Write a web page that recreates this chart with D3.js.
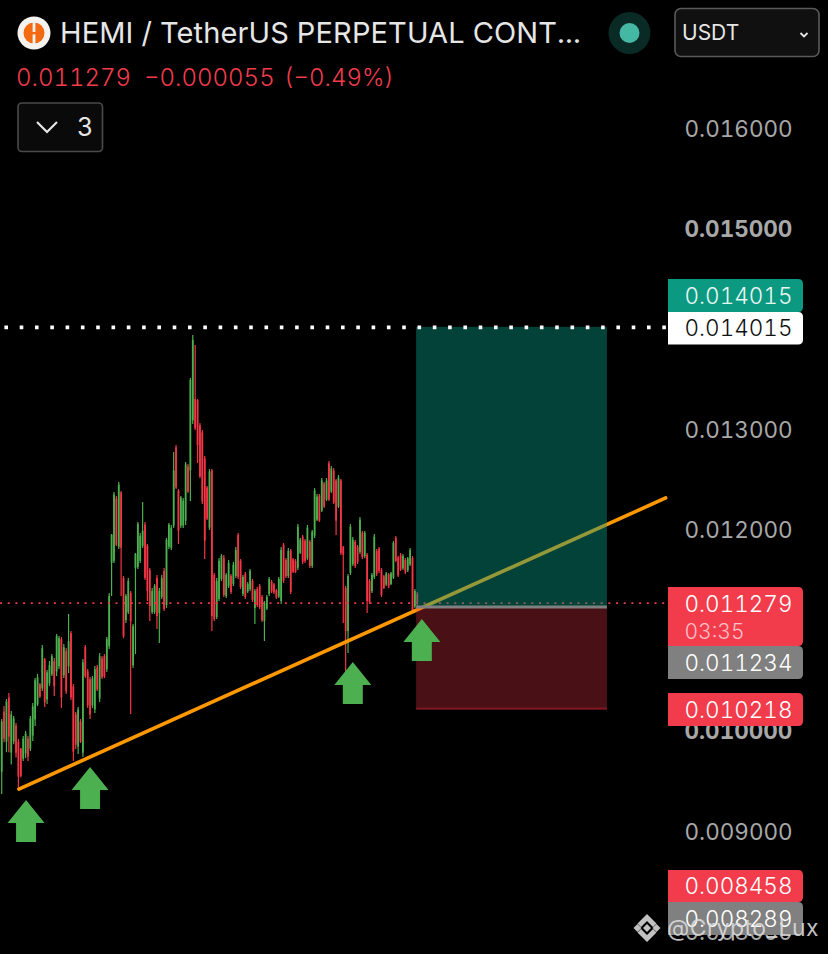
<!DOCTYPE html>
<html><head><meta charset="utf-8">
<style>
html,body{margin:0;padding:0;background:#000;width:828px;height:954px;overflow:hidden}
svg{display:block;font-family:Inter,"Noto Sans",sans-serif}
svg text{font-variant-numeric:tabular-nums;font-feature-settings:"tnum" 1}
</style>
<script src="https://cdnjs.cloudflare.com/ajax/libs/d3/7.8.5/d3.min.js"></script>
</head><body><svg id="c" width="828" height="954"></svg>
<script>
// Prices in millionths of USDT, candle by candle
const opens=[9600,10200,9900,10340,9790,9900,10060,9900,9830,9730,
9780,9930,9830,9960,10120,10270,10470,10430,10720,10320,
10480,10570,10700,10600,10650,10920,10560,10800,10650,10980,
10450,10170,9850,10100,9790,10840,10600,10520,10260,10220,
10640,10330,10730,10750,10620,10850,11680,11700,12320,11840,
12380,11530,11110,11190,11380,10660,11630,11640,11700,11850,
12060,11850,11610,11190,11190,11530,11180,11340,11600,11260,
11840,11830,12050,12830,12400,12050,12050,12100,12640,12600,
13100,13311,13300,13050,12980,12720,12430,12030,12600,11560,
11140,11320,11520,11730,11350,11450,11550,11470,11550,11960,
11700,11370,11570,11395,11420,11500,11230,11420,11450,11340,
11100,11225,11370,11490,11465,11405,11345,11300,11860,11710,
11550,11800,11715,11700,11630,11780,11940,11900,11725,11890,
11650,11950,12110,12350,12200,12470,12310,12670,12390,12600,
12500,12240,12500,11840,11430,11000,11580,11670,11890,11840,
11790,11980,11745,11760,11500,11400,11540,11800,11820,11610,
11545,11465,11565,11470,11535,11930,11735,11760,11625,11710,
11605,11665,11730,11245,11370];
const highs=[10125,10254,10324,10384,10205,10155,10085,9926,9836,9956,
10006,9956,10155,10284,10533,10573,10484,10862,10732,10613,
10703,10772,10732,10971,10952,10942,10872,10832,11171,11001,
10474,10195,10245,10125,10722,10862,10623,10543,10553,10653,
10663,10782,10752,10772,10942,11380,11967,12385,12345,12485,
12395,11549,11370,11529,11400,11071,11778,12087,11977,12286,
12087,11868,11629,11429,11469,11559,11429,11559,11629,11927,
12077,12057,12784,12853,12415,12345,12325,12684,12664,13520,
13949,13849,13311,13072,13003,12744,12445,12614,12614,11579,
11529,11728,11768,11758,11579,11708,11569,11688,11838,11977,
11718,11559,11589,11489,11619,11519,11419,11439,11469,11359,
11300,11359,11539,11509,11479,11419,11539,11838,11878,11728,
11828,11818,11728,11718,12067,11927,11957,11917,12057,11907,
12007,12425,12365,12365,12525,12485,12525,12694,12644,12624,
12515,12555,12515,11848,11449,11569,12067,11937,11907,11858,
12137,11997,11997,11778,11519,11579,11967,11818,11838,11629,
11559,11589,11579,11589,11897,11947,11748,11778,11768,11728,
11738,11828,11748,11419,11389];
const lows=[9378,9894,9794,9794,9673,9874,9743,9412,9543,9707,
9737,9707,9806,9906,10055,10255,10334,10404,10245,10275,
10454,10553,10354,10553,10623,10235,10533,10374,10583,10314,
9707,9826,9776,9886,9747,10533,10235,10125,10235,10185,
10404,10294,10523,10533,10593,10822,11350,11678,11848,11818,
11350,10928,11081,11171,10175,10633,10772,11620,11678,11828,
11510,11300,11101,11171,11171,11021,10882,11320,11200,11230,
11818,11808,12027,12415,11868,12027,12027,12057,12375,12295,
13062,13003,12674,12525,12266,11718,12107,12007,11001,11101,
11121,11300,11499,11340,11330,11429,11370,11449,11529,11519,
11419,11350,11320,11379,11399,11290,11071,11240,11220,11091,
10902,11210,11350,11379,11369,11320,11330,11270,11479,11529,
11529,11369,11579,11579,11609,11768,11669,11678,11708,11629,
11629,11927,12097,12087,12187,12226,12295,12295,12375,12266,
11957,12226,11758,11081,10513,10782,11559,11649,11629,11669,
11768,11718,11728,11180,11270,11379,11519,11549,11579,11340,
11419,11449,11429,11459,11519,11688,11539,11599,11609,11569,
11589,11649,11180,11230,11230];
const closes=[10100,9930,10300,9950,10170,10130,9790,9550,9560,9930,
9980,9750,10130,10250,10510,10540,10350,10830,10290,10590,
10660,10750,10450,10950,10930,10340,10840,10400,10900,10340,
9800,9870,10220,9900,10690,10550,10260,10170,10530,10620,
10420,10750,10540,10550,10920,11350,11960,12360,11860,12460,
11830,10950,11350,11500,11100,11050,11770,12070,11950,12000,
11530,11400,11250,11400,11450,11150,11400,11530,11220,11910,
12060,12030,12600,12430,12000,12330,12300,12660,12390,13500,
13900,13020,12850,12540,12290,11900,12120,12590,11150,11120,
11500,11700,11750,11360,11560,11680,11390,11660,11810,11540,
11440,11540,11340,11470,11600,11310,11400,11260,11240,11110,
11280,11340,11520,11395,11385,11335,11520,11810,11500,11545,
11800,11390,11590,11590,12040,11910,11690,11700,12030,11650,
11990,12400,12340,12100,12500,12240,12500,12310,12620,12280,
12100,12530,11780,11760,11000,11550,12040,11910,11650,11690,
12110,11735,11980,11300,11290,11560,11940,11570,11600,11360,
11430,11575,11445,11575,11880,11700,11555,11615,11750,11585,
11725,11810,11200,11400,11279];
const priceTicks=[16000,15000,13000,12000,10000,9000,8000];
const boldTicks=[15000,10000];
const lastPrice=11279, entry=11234, target=14015, stop=10218;
// Support line through two (candle index, price) anchors
const trendIdx=[7.2,278], trendPrice=[9428,12326];
// Box span in candle index units
const boxIdx=[173.5,253.4];
// Green arrows below the touches
const arrowIdx=[10.2,37,147,175.9], arrowPrice=[9319,9647,10693,11121];
const tagTexts=["0.014015","0.014015","0.011279","0.011234","0.010218","0.008458","0.008289"];
const tagTops=[279,312,587,646,693,870,902];
const tagHeights=[33,32.5,59,33,33,32,33];
const tagFills=["#0b9981","#ffffff","#f23c4c","#808080","#f23c4c","#f23c4c","#808080"];
const tagInks=["#e9f7f3","#111111","#ffffff","#ffffff","#ffffff","#ffffff","#ffffff"];
const quoteTexts=["0.011279","\u22120.000055","(\u22120.49%)"];
const quoteLefts=[16,144,284];

const svg=d3.select("#c");
const x=d3.scaleLinear().domain([0,174]).range([1.7,417.3]);
const y=d3.scaleLinear().domain([16000,9000]).range([129,832]);
const UP="#4caf50", DOWN="#f23645";

// Candles
const idx=d3.range(opens.length);
const g=svg.append("g");
g.selectAll("line.w").data(idx).join("line").attr("class","w")
 .attr("x1",i=>x(i)).attr("x2",i=>x(i)).attr("y1",i=>y(highs[i])).attr("y2",i=>y(lows[i]))
 .attr("stroke",i=>closes[i]>=opens[i]?UP:DOWN).attr("stroke-width",1.2);
g.selectAll("rect.b").data(idx).join("rect").attr("class","b")
 .attr("x",i=>x(i)-.9).attr("width",1.8)
 .attr("y",i=>y(Math.max(opens[i],closes[i])))
 .attr("height",i=>Math.max(1,Math.abs(y(opens[i])-y(closes[i]))))
 .attr("fill",i=>closes[i]>=opens[i]?UP:DOWN);

// Last price dotted line
svg.append("line").attr("x1",0).attr("x2",666).attr("y1",y(lastPrice)).attr("y2",y(lastPrice))
 .attr("stroke","#f23645").attr("stroke-width",1.6).attr("stroke-dasharray","2 5.7");

// Trend line beneath the position box
const line=d3.line().x(d=>x(d[0])).y(d=>y(d[1]));
svg.append("path").attr("d",line(d3.zip(trendIdx,trendPrice)))
 .attr("fill","none").attr("stroke","#ff9800").attr("stroke-width",3.6).attr("stroke-linecap","round");

// Position box
svg.append("rect").attr("x",x(boxIdx[0])).attr("width",x(boxIdx[1])-x(boxIdx[0]))
 .attr("y",y(target)-1.5).attr("height",y(entry)-y(target)+1.5).attr("fill","#089981").attr("fill-opacity",.43);
svg.append("rect").attr("x",x(boxIdx[0])).attr("width",x(boxIdx[1])-x(boxIdx[0]))
 .attr("y",y(entry)).attr("height",y(stop)-y(entry)).attr("fill","#f23645").attr("fill-opacity",.3);
svg.append("line").attr("x1",x(boxIdx[0])).attr("x2",x(boxIdx[1])).attr("y1",y(entry)-.7).attr("y2",y(entry)-.7)
 .attr("stroke","#808080").attr("stroke-width",3);
svg.append("line").attr("x1",x(boxIdx[0])).attr("x2",x(boxIdx[1])).attr("y1",y(stop)-1.2).attr("y2",y(stop)-1.2)
 .attr("stroke","#7d1620").attr("stroke-width",2);
// White dotted target line
svg.append("line").attr("x1",0).attr("x2",667).attr("y1",y(target)-1).attr("y2",y(target)-1)
 .attr("stroke","#ffffff").attr("stroke-width",3.6).attr("stroke-dasharray","3.6 11.7").attr("stroke-dashoffset",-4.4);

// Arrows: shape is fixed, anchor comes from data
const arrowShape="M0,0L18.5,23H10V42H-10V23H-18.5Z";
svg.selectAll("path.a").data(arrowIdx).join("path").attr("class","a").attr("d",arrowShape)
 .attr("transform",(d,i)=>`translate(${x(d)},${y(arrowPrice[i])})`).attr("fill","#4caf50");

// Axis
const axis=d3.axisRight(y).tickValues(priceTicks).tickSize(0).tickPadding(0).tickFormat(d=>(d/1e6).toFixed(6));
const ag=svg.append("g").attr("transform","translate(684.5,0)").call(axis);
ag.select(".domain").remove();
ag.selectAll("text").attr("fill","#a8a8a8").attr("font-family","Inter,'Noto Sans',sans-serif")
 .attr("font-size",22.5).attr("font-weight",d=>boldTicks.includes(d)?700:400);

// Price tags
const tagG=svg.append("g");
const tagPath=(i)=>{const t=tagTops[i],h=tagHeights[i],l=668,r=803,c=5;
 return `M${l},${t}H${r-c}Q${r},${t} ${r},${t+c}V${t+h-c}Q${r},${t+h} ${r-c},${t+h}H${l}Z`;};
tagG.selectAll("path").data(tagTexts).join("path").attr("d",(d,i)=>tagPath(i)).attr("fill",(d,i)=>tagFills[i]);
tagG.selectAll("text.t").data(tagTexts).join("text").attr("class","t").text(d=>d)
 .attr("x",684.5).attr("y",(d,i)=>i==2?tagTops[i]+16.5:tagTops[i]+tagHeights[i]/2).attr("dy",".36em")
 .attr("fill",(d,i)=>tagInks[i]).attr("font-size",22.5).attr("font-weight",300);
tagG.append("text").text("03:35").attr("x",684.5).attr("y",631).attr("dy",".36em").attr("fill","#ffc0c6")
 .attr("font-size",21).attr("font-weight",300);

// Header
svg.append("circle").attr("cx",34).attr("cy",33).attr("r",16.5).attr("fill","#f5f3f0");
svg.append("circle").attr("cx",34).attr("cy",33).attr("r",10.5).attr("fill","#f46a12");
svg.append("rect").attr("x",32.6).attr("y",22).attr("width",2.8).attr("height",22).attr("fill","#f5f3f0");
svg.append("rect").attr("x",28).attr("y",32).attr("width",12).attr("height",2.4).attr("fill","#f46a12");
svg.append("text").text("HEMI / TetherUS PERPETUAL CONT...").attr("x",60).attr("y",33).attr("dy",".36em")
 .attr("fill","#e6e6e6").attr("font-size",29).attr("font-weight",400).style("letter-spacing","0.13px");
svg.append("circle").attr("cx",629.5).attr("cy",33).attr("r",21).attr("fill","#0a2a26");
svg.append("circle").attr("cx",629.5).attr("cy",33).attr("r",10).attr("fill","#45b8a3");
svg.append("rect").attr("x",675).attr("y",8.5).attr("width",144).attr("height",48).attr("rx",6)
 .attr("fill","#101010").attr("stroke","#5a5a5a").attr("stroke-width",1.6);
svg.append("text").text("USDT").attr("x",682).attr("y",32.5).attr("dy",".36em").attr("fill","#e6e6e6").attr("font-size",21);
svg.append("path").attr("d","M800.5,33l3.5,3.5l3.5,-3.5").attr("fill","none").attr("stroke","#e6e6e6").attr("stroke-width",1.8);
svg.selectAll("text.q").data(quoteTexts).join("text").attr("class","q").text(d=>d)
 .attr("x",(d,i)=>quoteLefts[i]).attr("y",77.5).attr("dy",".36em").attr("fill","#f23c4c")
 .attr("font-size",24).attr("font-weight",300);
svg.append("rect").attr("x",18).attr("y",103).attr("width",84.5).attr("height",48.5).attr("rx",4)
 .attr("fill","#0a0a0a").attr("stroke","#4a4a4a").attr("stroke-width",1.6);
svg.append("path").attr("d","M37,122l10,10l10,-10").attr("fill","none").attr("stroke","#e6e6e6").attr("stroke-width",2.2);
svg.append("text").text("3").attr("x",85).attr("y",127).attr("dy",".36em").attr("text-anchor","middle").attr("fill","#e6e6e6").attr("font-size",25);

// Watermark
const wm=svg.append("g").attr("fill","#dcdcdc").attr("fill-opacity",.88);
wm.append("path").attr("d","M647,914l9.5,9.5l-3.5,3.5l-6,-6l-6,6l-3.5,-3.5zM647,942l9.5,-9.5l-3.5,-3.5l-6,6l-6,-6l-3.5,3.5zM637.5,924l4,4l-4,4l-4,-4zM656.5,924l4,4l-4,4l-4,-4zM647,924l4,4l-4,4l-4,-4z");
wm.append("text").text("@Crypto_Lux").attr("x",667).attr("y",928).attr("dy",".36em").attr("font-size",23).style("letter-spacing","0.5px");
</script></body></html>
